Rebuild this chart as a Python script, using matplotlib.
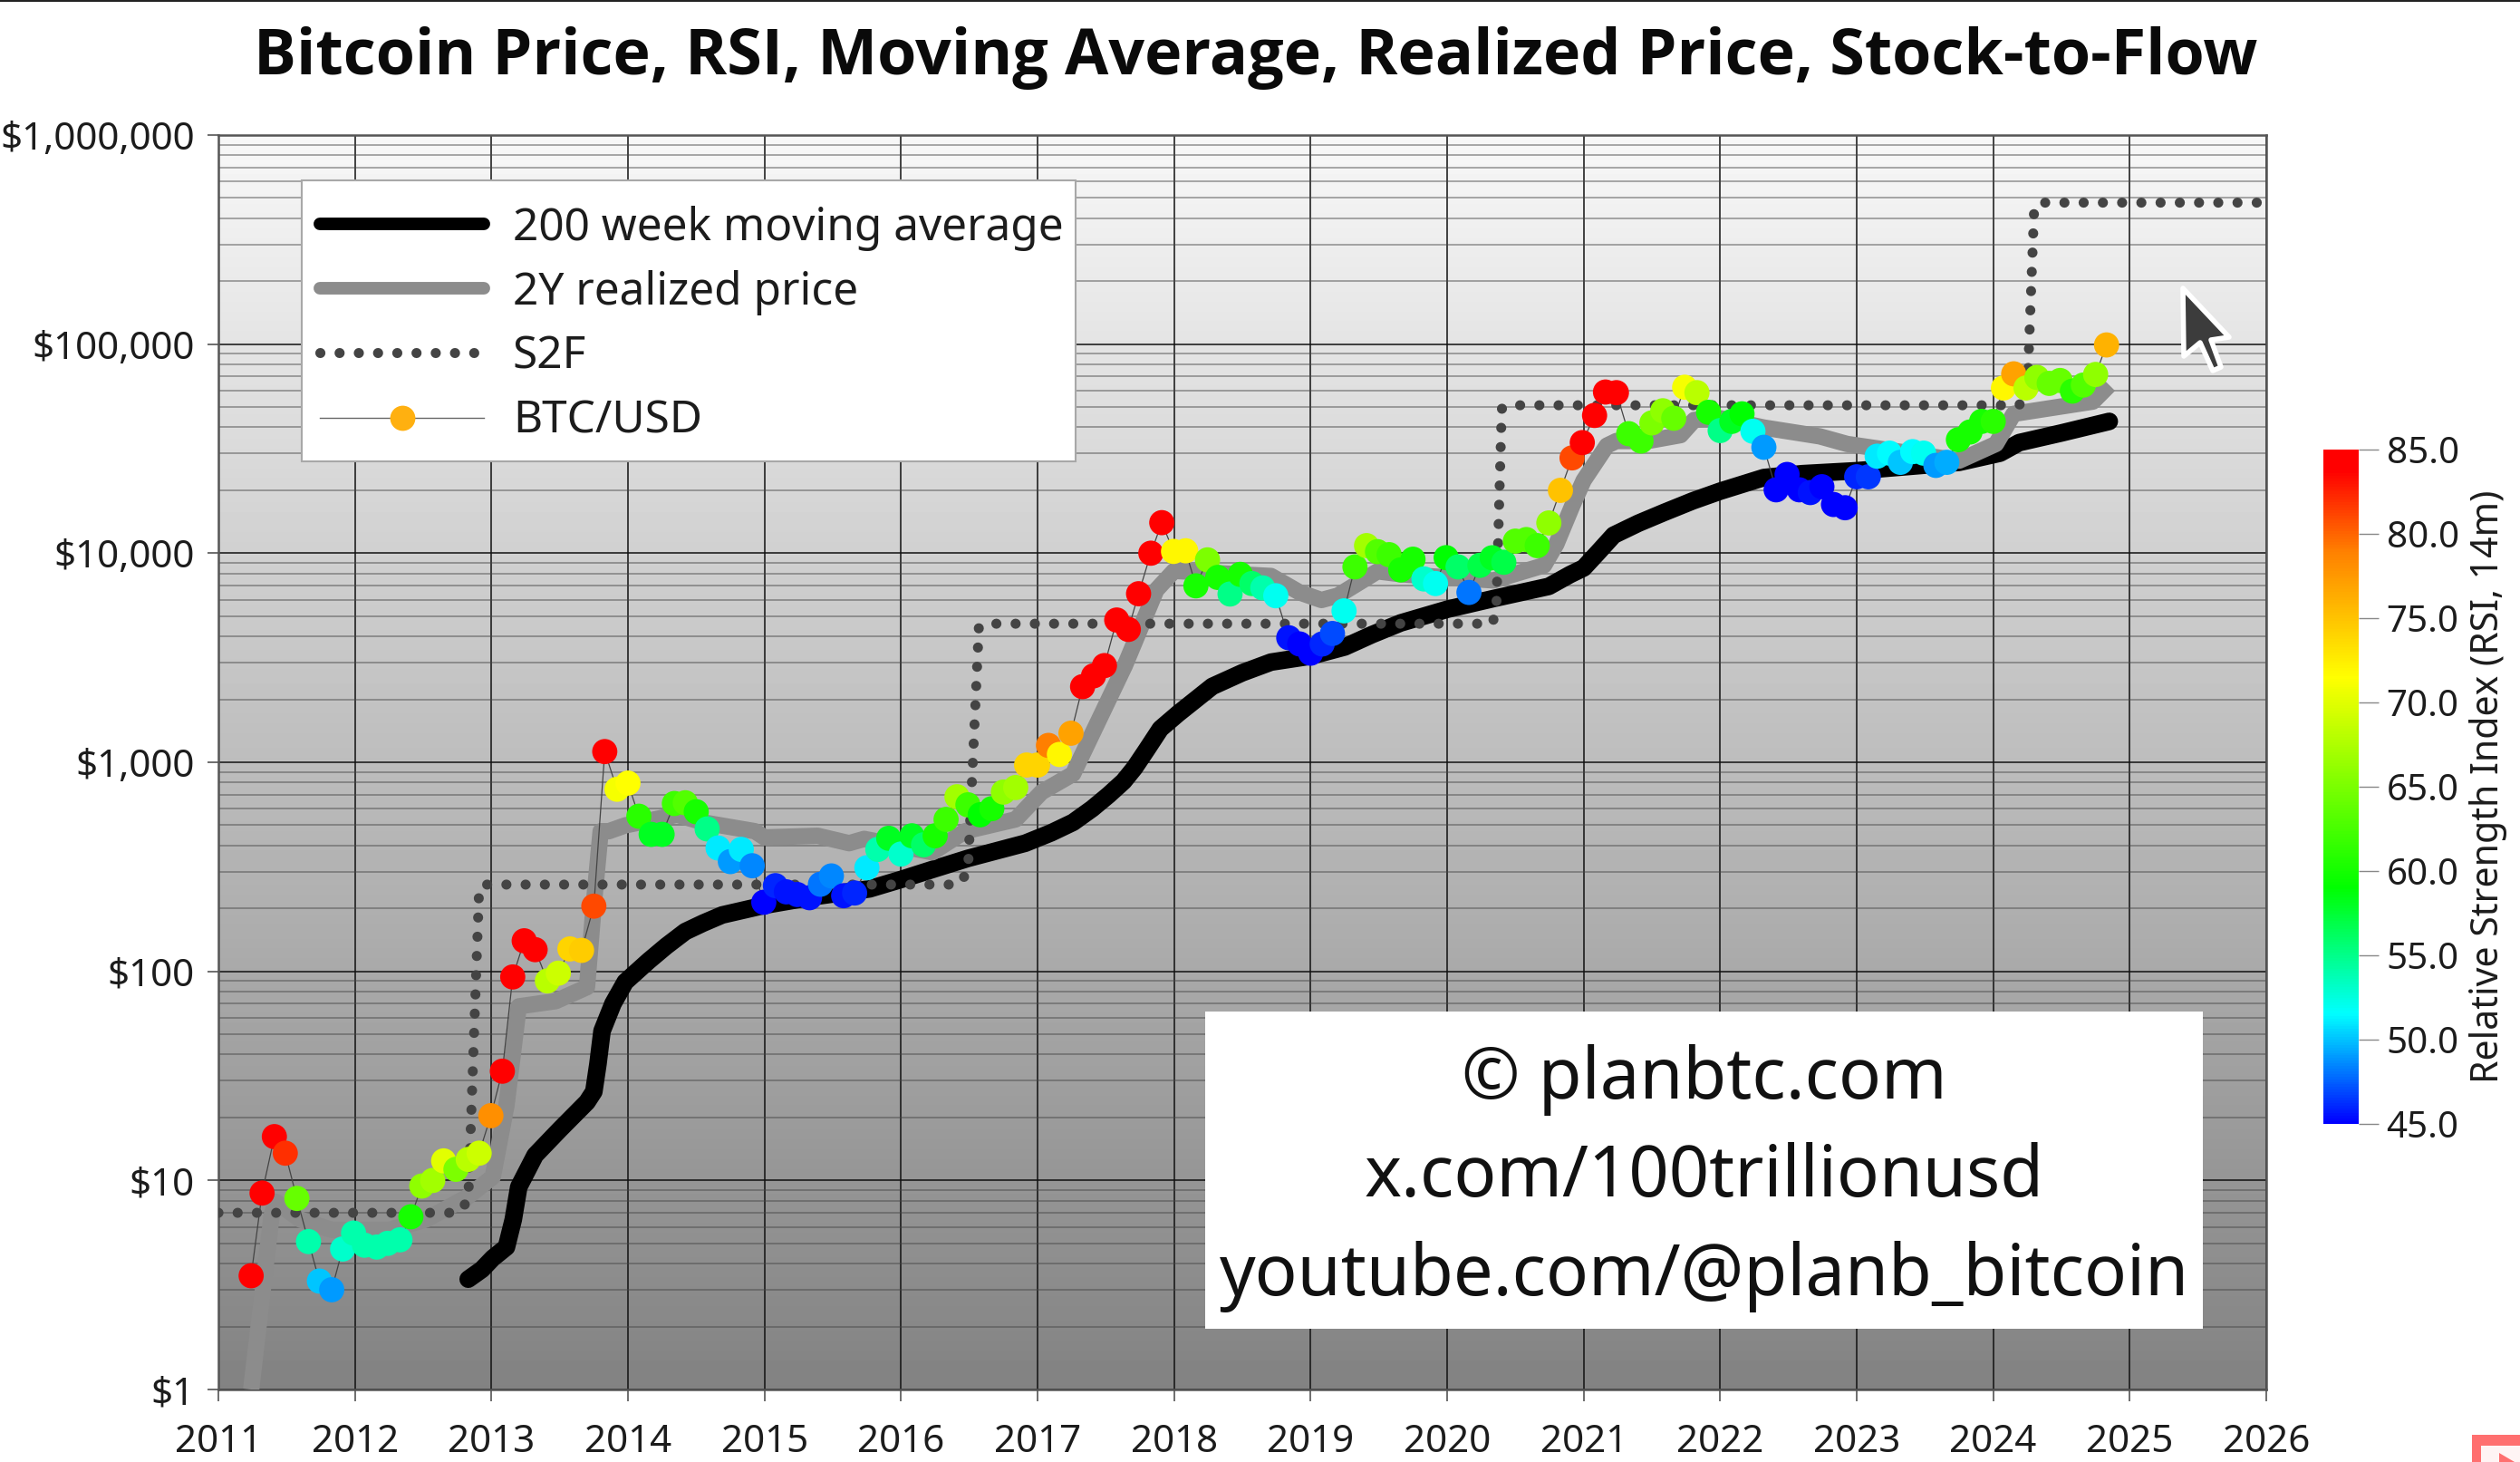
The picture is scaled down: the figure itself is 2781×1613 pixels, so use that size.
import matplotlib
matplotlib.use("Agg")
import matplotlib.pyplot as plt
import matplotlib.ticker as mticker
from matplotlib.colors import LinearSegmentedColormap, Normalize
from matplotlib.lines import Line2D
from matplotlib.patches import Polygon, Rectangle
from matplotlib.cm import ScalarMappable
import numpy as np

W, H = 2781, 1613

btc_year = [2011.24, 2011.32, 2011.41, 2011.49, 2011.575, 2011.66, 2011.74, 2011.83, 2011.91, 2011.99,
            2012.07, 2012.16, 2012.24, 2012.33, 2012.41, 2012.49, 2012.57, 2012.65, 2012.74, 2012.83,
            2012.91, 2012.996, 2013.08, 2013.156, 2013.24, 2013.32, 2013.41, 2013.49, 2013.575, 2013.66,
            2013.75, 2013.83, 2013.92, 2014.0, 2014.08, 2014.17, 2014.25, 2014.34, 2014.42, 2014.5,
            2014.58, 2014.66, 2014.75, 2014.83, 2014.91, 2014.995, 2015.08, 2015.16, 2015.24, 2015.33,
            2015.41, 2015.49, 2015.58, 2015.66, 2015.75, 2015.83, 2015.91, 2016.0, 2016.08, 2016.165,
            2016.25, 2016.33, 2016.41, 2016.49, 2016.58, 2016.665, 2016.75, 2016.84, 2016.92, 2017.0,
            2017.08, 2017.16, 2017.245, 2017.33, 2017.41, 2017.49, 2017.58, 2017.665, 2017.74, 2017.83,
            2017.91, 2017.996, 2018.085, 2018.16, 2018.245, 2018.32, 2018.41, 2018.485, 2018.57, 2018.65,
            2018.745, 2018.84, 2018.92, 2019.0, 2019.085, 2019.16, 2019.245, 2019.325, 2019.41, 2019.49,
            2019.575, 2019.66, 2019.75, 2019.83, 2019.915, 2019.993, 2020.08, 2020.16, 2020.24, 2020.33,
            2020.415, 2020.5, 2020.58, 2020.66, 2020.745, 2020.83, 2020.915, 2020.99, 2021.08, 2021.16,
            2021.24, 2021.33, 2021.42, 2021.5, 2021.58, 2021.66, 2021.74, 2021.83, 2021.915, 2022.0,
            2022.085, 2022.16, 2022.24, 2022.32, 2022.41, 2022.49, 2022.58, 2022.66, 2022.745, 2022.83,
            2022.915, 2023.0, 2023.085, 2023.15, 2023.24, 2023.32, 2023.41, 2023.49, 2023.58, 2023.66,
            2023.745, 2023.83, 2023.915, 2024.0, 2024.075, 2024.15, 2024.24, 2024.32, 2024.41, 2024.49,
            2024.58, 2024.66, 2024.75, 2024.83]
btc_price = [3.5, 8.7, 16.2, 13.5, 8.2, 5.1, 3.3, 3.0, 4.7, 5.6,
             4.9, 4.8, 5.0, 5.2, 6.7, 9.4, 10, 12.4, 11.3, 12.6,
             13.5, 20.4, 33.3, 94, 140, 127, 90, 98, 128, 126,
             205, 1125, 743, 795, 552, 452, 452, 635, 640, 580,
             480, 389, 335, 383, 320, 214, 257, 240, 233, 225,
             261, 286, 230, 237, 313, 383, 433, 364, 445, 403,
             445, 533, 684, 626, 561, 600, 720, 757, 970, 970,
             1204, 1090, 1377, 2300, 2590, 2900, 4790, 4320, 6400, 10000,
             14000, 10200, 10270, 6980, 9290, 7660, 6380, 7920, 7160, 6820,
             6260, 3940, 3680, 3325, 3680, 4130, 5300, 8600, 10870, 10170,
             9840, 8320, 9360, 7530, 7160, 9520, 8600, 6490, 8750, 9510,
             9050, 11420, 11620, 10870, 13950, 19980, 28570, 33800, 45600, 59000,
             58600, 37300, 34400, 42000, 48000, 44200, 62200, 58600, 47200, 38600,
             42700, 46400, 38300, 32100, 20100, 23800, 20100, 19500, 20800, 17100,
             16500, 23200, 23200, 29100, 30100, 27200, 30600, 30100, 26300, 27200,
             34900, 38000, 42700, 42700, 61700, 72100, 61700, 69300, 64900, 67000,
             59600, 63700, 71600, 99100]
btc_rsi = [85, 85, 85, 82, 64, 54, 50, 49, 53, 54,
           54, 54, 54, 54, 60, 66, 67, 70, 65, 68,
           69, 78, 85, 85, 85, 85, 68, 69, 74, 74.5,
           81, 85, 71, 71.5, 61, 58, 58, 62, 63, 60,
           55, 51, 49, 51, 48.5, 45, 46, 45.5, 45.5, 45.5,
           48, 48.5, 45.5, 46, 51, 54, 58, 53, 58, 56,
           60, 62, 67, 62, 59, 60, 66, 67, 74, 74,
           79, 72, 77, 85, 85, 85, 85, 85, 85, 85,
           85, 72, 72, 60, 65, 60, 55, 60, 56, 54,
           52, 45.5, 45, 45, 46, 47, 52, 62, 67, 63,
           62, 60, 60, 53, 52, 59, 56, 48, 57, 58,
           57, 63, 63, 62, 66, 75, 81, 85, 85, 85,
           85, 62, 62, 65, 66, 64, 71, 68, 60, 55,
           58, 59, 52, 49, 45, 45, 45, 45.5, 45, 45,
           45, 46, 46.5, 51, 51.5, 50, 51.5, 52, 49, 49.5,
           60, 60, 60, 61, 72, 77, 68, 66, 64, 64,
           61, 63, 66, 76]

ma_year = [2012.83, 2012.93, 2013.01, 2013.11, 2013.16, 2013.2, 2013.32, 2013.5, 2013.7, 2013.75, 2013.78,
           2013.81, 2013.89, 2013.98, 2014.15, 2014.28,
           2014.42, 2014.55, 2014.69, 2015.0, 2015.39, 2015.77, 2016.0, 2016.25, 2016.49, 2016.91, 2017.1, 2017.26,
           2017.4, 2017.52, 2017.63, 2017.71, 2017.8, 2017.9, 2018.03, 2018.28, 2018.5, 2018.71, 2019.0, 2019.25,
           2019.45, 2019.66, 2020.0, 2020.34,
           2020.745, 2020.9, 2021.0, 2021.1, 2021.22, 2021.4, 2021.59, 2021.8, 2022.0, 2022.32, 2022.6, 2023.0,
           2023.75, 2024.05, 2024.19, 2024.5,
           2024.85]
ma_price = [3.37, 3.75, 4.25, 4.8, 6.5, 9.3, 13.2, 17.5, 23.7, 26.6, 36,
            51.8, 70, 89, 112, 132,
            155, 170, 186, 207, 229, 248, 275, 310, 347, 410, 460, 516,
            600, 697, 810, 940, 1150, 1446, 1710, 2307, 2680, 3013, 3220, 3560,
            4080, 4640, 5390, 6070,
            6940, 7900, 8500, 10000, 12200, 13900, 15670, 17800, 19800, 23000, 24000, 24800,
            27200, 30100, 33800, 37600,
            42700]

rp_year = [2011.24, 2011.35, 2011.39, 2011.42, 2011.6, 2011.83, 2012.25, 2012.52, 2012.82, 2013.01,
           2013.11, 2013.2, 2013.47, 2013.7, 2013.75, 2013.8, 2013.86, 2013.98, 2014.36, 2014.55,
           2014.93, 2015.0, 2015.39, 2015.62, 2015.73, 2016.23, 2016.47, 2016.84, 2017.03, 2017.26,
           2017.45, 2017.64, 2017.87, 2018.0, 2018.71, 2018.92, 2019.08, 2019.2, 2019.49, 2019.66,
           2020.0, 2020.34, 2020.71, 2020.8, 2020.92, 2021.0, 2021.17, 2021.24, 2021.47, 2021.71,
           2021.81, 2022.0, 2022.32, 2022.73, 2022.93, 2023.24, 2023.75, 2024.02, 2024.15, 2024.73,
           2024.85]
rp_price = [1, 4.1, 6.8, 7.9, 6.5, 5.8, 5.8, 6.5, 8.3, 10.4,
            22.8, 68, 72, 84, 210, 468, 468, 499, 561, 516,
            468, 437, 445, 410, 430, 371, 468, 533, 720, 879,
            1597, 2905, 6670, 8230, 7780, 6490, 5970, 6270, 8190, 7930,
            7660, 7410, 8750, 11050, 17060, 22300, 32700, 34400, 34400, 36700,
            43400, 44200, 39900, 36200, 33300, 31100, 27700, 33300, 46400, 53100,
            63700]

s2f_year = [2011.0, 2012.75, 2012.83, 2012.91, 2012.95, 2016.42, 2016.49, 2016.57, 2016.62, 2020.33,
            2020.36, 2020.40, 2020.44, 2024.19, 2024.25, 2024.30, 2024.35, 2026.0]
s2f_price = [7, 7, 8, 250, 260, 260, 300, 4400, 4600, 4600,
             5300, 49000, 51000, 51000, 60000, 450000, 475000, 475000]

year_ticks = list(range(2011, 2027))
price_ticks = [1, 10, 100, 1000, 10000, 100000, 1000000]
price_labels = ["$1", "$10", "$100", "$1,000", "$10,000", "$100,000", "$1,000,000"]
rsi_ticks = [45, 50, 55, 60, 65, 70, 75, 80, 85]
credits = ["© planbtc.com", "x.com/100trillionusd", "youtube.com/@planb_bitcoin"]

plt.rcParams["font.family"] = ["Noto Sans", "DejaVu Sans"]
text_col = "#1c1c1c"

# rainbow scale of the RSI colorbar
rsi_cmap = LinearSegmentedColormap.from_list("rsi", [
    (0.0, "#0000ff"), (0.1625, "#00ffff"), (0.35, "#00ff00"),
    (0.6625, "#ffff00"), (0.85, "#ff8000"), (0.97, "#ff0000"), (1.0, "#ff0000")])
rsi_norm = Normalize(45, 85)


def box(x0, y0, x1, y1):
    # pixel box (top left origin) to figure fractions
    return [x0 / W, 1 - y1 / H, (x1 - x0) / W, (y1 - y0) / H]


fig = plt.figure(figsize=(W / 100, H / 100), dpi=100, facecolor="white")
ax = fig.add_axes(box(241, 149, 2501, 1533))

gradient = np.linspace(0.97, 0.51, 256).reshape(-1, 1)
ax.imshow(gradient, cmap="gray", vmin=0, vmax=1, aspect="auto", extent=[0, 1, 0, 1],
          transform=ax.transAxes, zorder=0)

ax.set_yscale("log")
ax.set_xlim(2011, 2026)
ax.set_ylim(1, 1000000)
ax.set_xticks(year_ticks)
ax.set_xticklabels([str(y) for y in year_ticks])
ax.set_yticks(price_ticks)
ax.set_yticklabels(price_labels)
ax.yaxis.set_minor_locator(mticker.LogLocator(base=10, subs=range(2, 10), numticks=20))
ax.yaxis.set_minor_formatter(mticker.NullFormatter())
ax.tick_params(axis="both", which="major", labelsize=30.3, length=9, width=1.2, color="#555555",
               labelcolor=text_col)
ax.tick_params(axis="x", pad=18)
ax.tick_params(axis="y", pad=10)
ax.tick_params(axis="y", which="minor", length=0)
ax.grid(True, which="major", axis="both", color="#111111", lw=1.1, zorder=1)
ax.grid(True, which="minor", axis="y", color="#444444", lw=1.4, alpha=0.45, zorder=1)
ax.set_axisbelow(True)
for s in ax.spines.values():
    s.set_color("#555555")
    s.set_linewidth(1.8)

ax.plot(ma_year, ma_price, color="black", lw=14, solid_capstyle="round", solid_joinstyle="round", zorder=3)
ax.plot(rp_year, rp_price, color="#8c8c8c", lw=13, solid_capstyle="butt", solid_joinstyle="round", zorder=4)
ax.plot(s2f_year, s2f_price, color="#444444", lw=8, linestyle=(0, (0.01, 1.9)),
        dash_capstyle="round", zorder=5)
ax.plot(btc_year, btc_price, color="#444444", lw=0.9, zorder=6)
ax.scatter(btc_year, btc_price, c=btc_rsi, cmap=rsi_cmap, norm=rsi_norm, s=400, linewidths=0, zorder=7)

# legend frame drawn apart so the rows can sit where they belong
ax.add_patch(Rectangle(((333 - 241) / 2260, 1 - (199 - 149) / 1384), 854 / 2260, -310 / 1384,
                       transform=ax.transAxes, facecolor="white", edgecolor="#a8a8a8", lw=1.5, zorder=9))
handles = [
    Line2D([], [], color="black", lw=10, solid_capstyle="round"),
    Line2D([], [], color="#8c8c8c", lw=10, solid_capstyle="round"),
    Line2D([], [], color="#444444", lw=8, linestyle=(0, (0.01, 1.9)), dash_capstyle="round"),
    Line2D([], [], color="#666666", lw=1, marker="o", markersize=20, markerfacecolor="#ffb010",
           markeredgewidth=0),
]
leg = ax.legend(handles, ["200 week moving average", "2Y realized price", "S2F", "BTC/USD"],
                loc="upper left", bbox_to_anchor=(0.0496, 0.944), borderaxespad=0, fontsize=35.7,
                handlelength=3.65, handletextpad=0.64, labelspacing=0.426, borderpad=0,
                frameon=False, labelcolor=text_col)
leg.set_zorder(10)

# credits box
cred = fig.add_axes(box(1330, 1116, 2431, 1466), facecolor="white", zorder=3)
cred.set_xticks([])
cred.set_yticks([])
for s in cred.spines.values():
    s.set_visible(False)
for line, yc in zip(credits, [0.785, 0.475, 0.165]):
    cred.text(0.5, yc, line, transform=cred.transAxes, ha="center", va="center", fontsize=56, color="#111111")

# colorbar
cax = fig.add_axes(box(2564, 496, 2603, 1240))
cb = fig.colorbar(ScalarMappable(norm=rsi_norm, cmap=rsi_cmap), cax=cax, ticks=rsi_ticks)
cb.ax.set_yticklabels(["%.1f" % t for t in rsi_ticks])
cb.ax.tick_params(labelsize=29, length=16, width=1, color="#888888", labelcolor=text_col, pad=6)
cb.outline.set_visible(False)
fig.text(2746 / W, 1 - 868 / H, "Relative Strength Index (RSI, 14m)", rotation=90, ha="center", va="center",
         fontsize=29.5, color=text_col)

fig.text(1386 / W, 1 - 64 / H, "Bitcoin Price, RSI, Moving Average, Realized Price, Stock-to-Flow",
         ha="center", va="center", fontsize=50.4, fontweight="bold", family=["Open Sans", "DejaVu Sans"], color="#0a0a0a")

# screen capture leftovers: top edge, mouse pointer, player icon
fig.add_artist(Rectangle((0, 1 - 2 / H), 1, 2 / H, transform=fig.transFigure, color="#222222", lw=0))
cursor_px = [(2409, 318), (2460, 372), (2440, 375), (2451, 405), (2442, 409), (2428, 378), (2410, 393)]
fig.add_artist(Polygon([(x / W, 1 - y / H) for x, y in cursor_px], closed=True, transform=fig.transFigure,
                       facecolor="#3c3c3c", edgecolor="white", lw=4, joinstyle="round", zorder=20))
fig.add_artist(Rectangle((2728 / W, 0), 53 / W, 30 / H, transform=fig.transFigure, color="#ff6f6f", lw=0, zorder=20))
fig.add_artist(Rectangle((2738 / W, 0), 43 / W, 18 / H, transform=fig.transFigure, color="#fff4f4", lw=0, zorder=21))
icon_px = [(2758, 1613), (2758, 1603), (2775, 1613)]
fig.add_artist(Polygon([(x / W, 1 - y / H) for x, y in icon_px], closed=True, transform=fig.transFigure,
                       facecolor="#ff6f6f", lw=0, zorder=22))

fig.savefig("out.png", dpi=100)
